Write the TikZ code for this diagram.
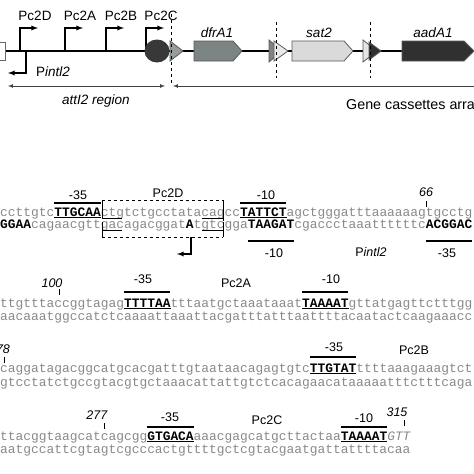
\documentclass[tikz,border=0pt]{standalone}
\usepackage{fontspec}
\setmainfont{Liberation Sans}
\setmonofont{Liberation Mono}
\definecolor{seqgray}{HTML}{8A8A8A}
\definecolor{dfrcol}{HTML}{7C8484}
\definecolor{satcol}{HTML}{DADADA}
\definecolor{aadcol}{HTML}{303030}
\tikzset{
  prom/.style={line width=1.3pt, -latex},
  span/.style={line width=0.7pt, draw=black!75, latex-latex},
  gene/.style={draw=black!65, line width=0.8pt},
  motif/.style={line width=2.4pt},
  tick/.style={line width=1pt},
  lab/.style={font=\fontsize{12.5}{14}\selectfont},
  big/.style={font=\fontsize{13.5}{15}\selectfont},
  seq/.style={inner sep=0pt, anchor=base west, font=\fontsize{12.9}{13}\selectfont\ttfamily},
}
\newcommand{\lc}[1]{\textcolor{seqgray}{#1}}
\newcommand{\mot}[1]{\underline{\textbf{#1}}}
\def\cw{7.74}
\begin{document}
\begin{tikzpicture}[x=1pt, y=-1pt]
    \useasboundingbox (0,0) rectangle (474,474);
    \clip (0,0) rectangle (474,474);
    \fill[white] (0,0) rectangle (474,474);
    % gene map
    \draw[line width=1.2pt] (0,51) -- (474,51);
    \draw[fill=white, draw=black!60] (-6,42) rectangle (5,60);
    \foreach \x/\n in {20/Pc2D, 65/Pc2A, 106/Pc2B, 146/Pc2C} {
        \draw[prom] (\x,51) -- (\x,28) -- (\x+18,28);
        \node[big] (\n) at (\x+15,16) {\n};
    }
    \draw[prom] (26,51) -- (26,73) -- (8,73);
    \node[big] (pintl) at (53,72) {P\textit{intl2}};
    \fill[black!78] (157,51) ellipse (12.5 and 11.5);
    \draw[gene, fill=dfrcol!80] (170,41) -- (183,51) -- (170,61) -- cycle;
    \draw[gene, fill=dfrcol] (194,41) -- (233,41) -- (242,51) -- (233,61) -- (194,61) -- cycle;
    \draw[gene, fill=dfrcol] (269,40) -- (282,51) -- (269,62) -- cycle;
    \draw[gene, fill=satcol!60] (274,41) -- (288,51) -- (274,61) -- cycle;
    \draw[gene, fill=satcol] (292,41) -- (344,41) -- (353,51) -- (344,61) -- (292,61) -- cycle;
    \draw[gene, fill=satcol!70] (363,40) -- (377,51) -- (363,62) -- cycle;
    \draw[gene, fill=aadcol] (369,42) -- (381,51) -- (369,60) -- cycle;
    \draw[gene, fill=aadcol] (402,41) -- (464,41) -- (474,51) -- (464,61) -- (402,61) -- cycle;
    \node[big] (dfr) at (217,33) {\textit{dfrA1}};
    \node[big] (sat) at (319,33) {\textit{sat2}};
    \node[big] (aad) at (433,33) {\textit{aadA1}};
    \foreach \x/\a/\b in {171/14/84, 276/22/78, 370/22/78}
        \draw[dashed, line width=0.8pt] (\x,\a) -- (\x,\b);
    \draw[span] (8,86) -- (165,86);
    \draw[span] (173,86) -- (490,86);
    \node[big] (att) at (96,101) {\textit{attI2 region}};
    \node[big, anchor=west, inner sep=0pt, font=\fontsize{14.3}{16}\selectfont] (gca) at (346,106) {Gene cassettes array};
    % sequence
    \node[seq] (aTop) at (0,216) {\lc{ccttgtc}\mot{TTGCAA}\lc{ctgtctgcctatacagcc}\mot{TATTCT}\lc{agctgggatttaaaaaagtgcctg}};
    \node[seq] (aBot) at (0,228) {\textbf{GGAA}\lc{cagaacgttgacagacggat}\textbf{A}\lc{tgtcgga}\textbf{TAAGAT}\lc{cgaccctaaattttttc}\textbf{ACGGAC}};
    \node[seq] (bTop) at (0,307) {\lc{ttgtttaccggtagag}\mot{TTTTAA}\lc{tttaatgctaaataaat}\mot{TAAAAT}\lc{gttatgagttctttgg}};
    \node[seq] (bBot) at (0,320) {\lc{aacaaatggccatctcaaaattaaattacgatttatttaattttacaatactcaagaaacc}};
    \node[seq] (cTop) at (0,372) {\lc{caggatagacggcatgcacgatttgtaataacagagtgtc}\mot{TTGTAT}\lc{ttttaaagaaagtct}};
    \node[seq] (cBot) at (0,386) {\lc{gtcctatctgccgtacgtgctaaacattattgtctcacagaacataaaaatttctttcaga}};
    \node[seq] (dTop) at (0,440) {\lc{ttacggtaagcatcagcgg}\mot{GTGACA}\lc{aaacgagcatgcttactaa}\mot{TAAAAT}\lc{\textit{GTT}}};
    \node[seq] (dBot) at (0,453) {\lc{aatgccattcgtagtcgcccactgttttgctcgtacgaatgattattttacaa}};
    % boxes
    \foreach \a/\b/\y in {7/13/203, 31/37/203, 32/38/241, 55/61/241, 16/22/292, 39/45/292,
                          40/46/357, 19/25/427, 44/50/427}
        \draw[motif] ({\a*\cw},\y) -- ({\b*\cw},\y);
    \foreach \x/\y/\t [count=\i] in {78/195/-35, 266/195/-10, 274/253/-10, 447/253/-35,
                                     143/279/-35, 331/279/-10, 334/347/-35, 170/417/-35, 364/418/-10}
        \node[lab] (box\i) at (\x,\y) {\t};
    \node[lab] (pc2dS) at (168,193) {Pc2D};
    \node[lab] (pintlS) at (371,252) {P\textit{intl2}};
    \node[lab] (pc2aS) at (236,283) {Pc2A};
    \node[lab] (pc2bS) at (414,350) {Pc2B};
    \node[lab] (pc2cS) at (267,420) {Pc2C};
    % positions
    \foreach \x/\y/\t in {426/192/66, 52/283/100, 3/349/78, 97/415/277, 397/412/315}
        \node[lab] (pos\t) at (\x,\y) {\textit{\t}};
    \foreach \x/\y in {426/201, 59/289, 4/357, 104/423, 404/420}
        \draw[tick] (\x,\y) -- (\x,\y+6);
    % Pc2D brackets
    \draw[dashed, line width=1pt] (102,200) -- (223,200);
    \draw[line width=1pt] (102,200) -- (102,218) -- (122,218);
    \draw[line width=1pt] (223,200) -- (223,221);
    \draw[line width=1pt] (202,218) -- (223,218);
    \draw[dashed, line width=1pt] (102,237) -- (223,237);
    \draw[line width=1pt] (102,222) -- (102,237);
    \draw[line width=1pt] (223,222) -- (223,237);
    \draw[line width=1pt] (102,230) -- (122,230);
    \draw[line width=1pt] (202,230) -- (223,230);
    \draw[prom] (191,237) -- (191,254) -- (177,254);
\end{tikzpicture}
\end{document}
